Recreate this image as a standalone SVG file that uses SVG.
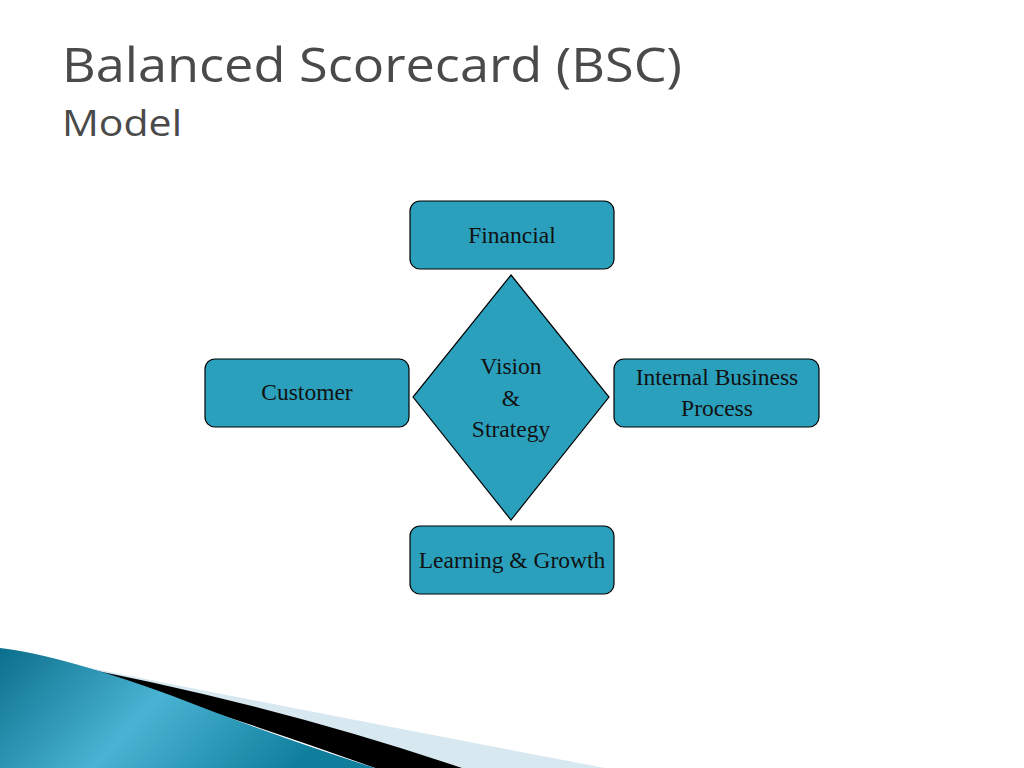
<svg xmlns="http://www.w3.org/2000/svg" width="1024" height="768" viewBox="0 0 1024 768">
<style>
.box{fill:#2aa0bd;stroke:#000;stroke-width:1.2}
.t{font-family:"Liberation Serif",serif;font-size:23.5px;fill:#111;text-anchor:middle}
.h{font-family:"Open Sans","DejaVu Sans",sans-serif;fill:#4a4a4a}
</style>
<defs>
<linearGradient id="g" x1="0" y1="0" x2="1" y2="0.3">
<stop offset="0" stop-color="#0a6f8c"/><stop offset="0.5" stop-color="#4ab3d3"/><stop offset="1" stop-color="#0f7e9c"/>
</linearGradient>
</defs>
<rect width="1024" height="768" fill="#fff"/>
<text class="h" x="62" y="82" font-size="48" textLength="620" lengthAdjust="spacingAndGlyphs">Balanced Scorecard (BSC)</text>
<text class="h" x="62" y="136" font-size="36" textLength="120" lengthAdjust="spacingAndGlyphs">Model</text>
<path d="M50,660 Q300,710 605,768 L450,768 Z" fill="#d8e8f0"/>
<path d="M45,661 Q260,700 462,768 L375,768 Q200,705 45,661 Z" fill="#000"/>
<path d="M0,648 Q60,655 170,695 Q280,738 375,768 L0,768 Z" fill="url(#g)"/>
<g id="connectors"></g>
<g id="financial"><rect class="box" x="410" y="201" width="204" height="68" rx="10"/><text class="t" x="512" y="243">Financial</text></g>
<g id="customer"><rect class="box" x="205" y="359" width="204" height="68" rx="10"/><text class="t" x="307" y="400">Customer</text></g>
<g id="internal"><rect class="box" x="614" y="359" width="205" height="68" rx="10"/><text class="t" x="717" y="385">Internal Business</text><text class="t" x="717" y="416">Process</text></g>
<g id="learning"><rect class="box" x="410" y="526" width="204" height="68" rx="10"/><text class="t" x="512" y="568">Learning &amp; Growth</text></g>
<g id="vision"><polygon class="box" points="511,275 609,397 511,520 413,397"/><text class="t" x="511" y="374">Vision</text><text class="t" x="511" y="406">&amp;</text><text class="t" x="511" y="437">Strategy</text></g>
</svg>
